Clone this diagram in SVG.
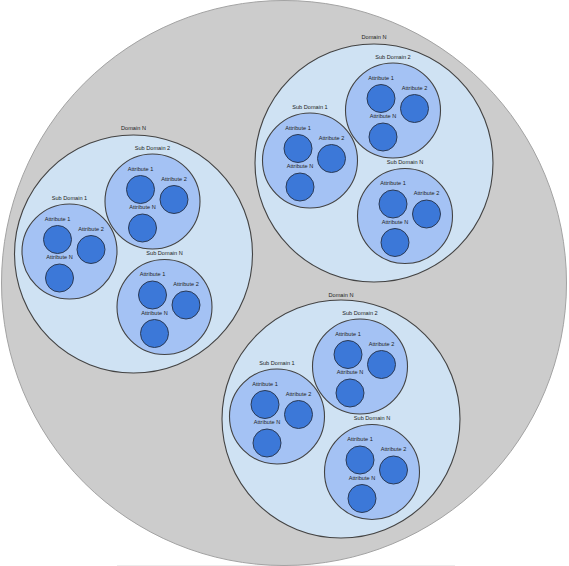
<svg xmlns="http://www.w3.org/2000/svg" width="569" height="566" viewBox="0 0 569 566">
<style>
.outer{fill:#cccccc;stroke:#a3a3a3;stroke-width:1}
.dom{fill:#cfe2f3;stroke:#434343;stroke-width:1.1}
.sub{fill:#a4c2f4;stroke:#434343;stroke-width:1.1}
.att{fill:#3c78d8;stroke:#2b3a55;stroke-width:1}
text{font-family:"Liberation Sans",Arial,sans-serif;font-size:5.6px;fill:#222;text-anchor:middle}
</style>
<rect width="569" height="566" fill="#ffffff"/>
<line x1="117" y1="565.5" x2="455" y2="565.5" stroke="#ececec" stroke-width="1"/>
<g id="outer"><circle class="outer" cx="284" cy="283" r="282.5"/></g>
<g id="connectors"></g>

<g id="domain-top-right" transform="translate(374,163)">
  <circle class="dom" r="119"/>
  <text y="-124">Domain N</text>
  <g id="dtr-sub1" transform="translate(-64,-2.5)">
    <circle class="sub" r="47.5"/><text y="-52">Sub Domain 1</text>
    <circle class="att" cx="-12" cy="-12" r="14"/><text x="-12" y="-31">Attribute 1</text>
    <circle class="att" cx="21.5" cy="-2" r="14"/><text x="21.5" y="-21">Attribute 2</text>
    <circle class="att" cx="-10" cy="26.5" r="14"/><text x="-10" y="7.5">Attribute N</text>
  </g>
  <g id="dtr-sub2" transform="translate(19,-52.5)">
    <circle class="sub" r="47.5"/><text y="-52">Sub Domain 2</text>
    <circle class="att" cx="-12" cy="-12" r="14"/><text x="-12" y="-31">Attribute 1</text>
    <circle class="att" cx="21.5" cy="-2" r="14"/><text x="21.5" y="-21">Attribute 2</text>
    <circle class="att" cx="-10" cy="26.5" r="14"/><text x="-10" y="7.5">Attribute N</text>
  </g>
  <g id="dtr-subn" transform="translate(31,53)">
    <circle class="sub" r="47.5"/><text y="-52">Sub Domain N</text>
    <circle class="att" cx="-12" cy="-12" r="14"/><text x="-12" y="-31">Attribute 1</text>
    <circle class="att" cx="21.5" cy="-2" r="14"/><text x="21.5" y="-21">Attribute 2</text>
    <circle class="att" cx="-10" cy="26.5" r="14"/><text x="-10" y="7.5">Attribute N</text>
  </g>
</g>

<g id="domain-left" transform="translate(133.5,254)">
  <circle class="dom" r="119"/>
  <text y="-124">Domain N</text>
  <g id="dl-sub1" transform="translate(-64,-2.5)">
    <circle class="sub" r="47.5"/><text y="-52">Sub Domain 1</text>
    <circle class="att" cx="-12" cy="-12" r="14"/><text x="-12" y="-31">Attribute 1</text>
    <circle class="att" cx="21.5" cy="-2" r="14"/><text x="21.5" y="-21">Attribute 2</text>
    <circle class="att" cx="-10" cy="26.5" r="14"/><text x="-10" y="7.5">Attribute N</text>
  </g>
  <g id="dl-sub2" transform="translate(19,-52.5)">
    <circle class="sub" r="47.5"/><text y="-52">Sub Domain 2</text>
    <circle class="att" cx="-12" cy="-12" r="14"/><text x="-12" y="-31">Attribute 1</text>
    <circle class="att" cx="21.5" cy="-2" r="14"/><text x="21.5" y="-21">Attribute 2</text>
    <circle class="att" cx="-10" cy="26.5" r="14"/><text x="-10" y="7.5">Attribute N</text>
  </g>
  <g id="dl-subn" transform="translate(31,53)">
    <circle class="sub" r="47.5"/><text y="-52">Sub Domain N</text>
    <circle class="att" cx="-12" cy="-12" r="14"/><text x="-12" y="-31">Attribute 1</text>
    <circle class="att" cx="21.5" cy="-2" r="14"/><text x="21.5" y="-21">Attribute 2</text>
    <circle class="att" cx="-10" cy="26.5" r="14"/><text x="-10" y="7.5">Attribute N</text>
  </g>
</g>

<g id="domain-bottom" transform="translate(341,419)">
  <circle class="dom" r="119"/>
  <text y="-122">Domain N</text>
  <g id="db-sub1" transform="translate(-64,-2.5)">
    <circle class="sub" r="47.5"/><text y="-52">Sub Domain 1</text>
    <circle class="att" cx="-12" cy="-12" r="14"/><text x="-12" y="-31">Attribute 1</text>
    <circle class="att" cx="21.5" cy="-2" r="14"/><text x="21.5" y="-21">Attribute 2</text>
    <circle class="att" cx="-10" cy="26.5" r="14"/><text x="-10" y="7.5">Attribute N</text>
  </g>
  <g id="db-sub2" transform="translate(19,-52.5)">
    <circle class="sub" r="47.5"/><text y="-52">Sub Domain 2</text>
    <circle class="att" cx="-12" cy="-12" r="14"/><text x="-12" y="-31">Attribute 1</text>
    <circle class="att" cx="21.5" cy="-2" r="14"/><text x="21.5" y="-21">Attribute 2</text>
    <circle class="att" cx="-10" cy="26.5" r="14"/><text x="-10" y="7.5">Attribute N</text>
  </g>
  <g id="db-subn" transform="translate(31,53)">
    <circle class="sub" r="47.5"/><text y="-52">Sub Domain N</text>
    <circle class="att" cx="-12" cy="-12" r="14"/><text x="-12" y="-31">Attribute 1</text>
    <circle class="att" cx="21.5" cy="-2" r="14"/><text x="21.5" y="-21">Attribute 2</text>
    <circle class="att" cx="-10" cy="26.5" r="14"/><text x="-10" y="7.5">Attribute N</text>
  </g>
</g>
</svg>
